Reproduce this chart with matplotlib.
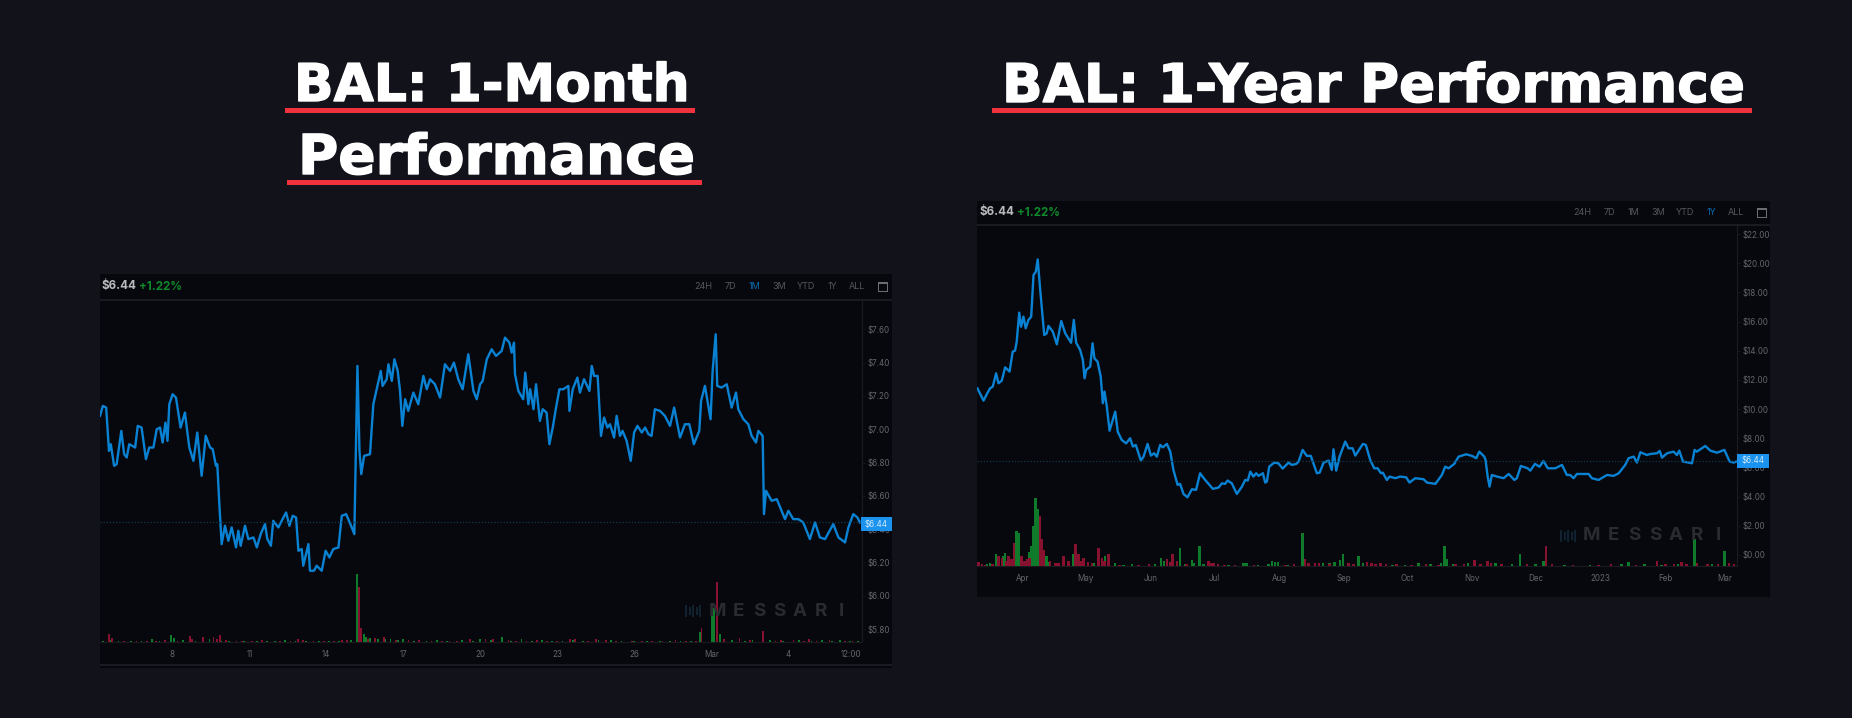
import matplotlib
import matplotlib.pyplot as plt
import matplotlib.patheffects as pe
from matplotlib.patches import Rectangle

matplotlib.use('Agg')

W, H = 1852, 718
BG = '#11121a'
PANEL = '#07080d'
LINE_BLUE = '#0a82d4'
UP = '#0f7a2a'
DOWN = '#861230'

# 1-month chart, x = day of Feb 2023 (29 = 1 Mar)
month_days = [5.18, 5.29, 5.42, 5.53, 5.60, 5.73, 5.83, 6.01, 6.12, 6.22, 6.32, 6.55, 6.65, 6.80, 6.97, 7.10,
              7.26, 7.39, 7.52, 7.62, 7.73, 7.81, 7.88, 8.01, 8.14, 8.32, 8.49, 8.56, 8.66, 8.82, 8.97, 9.14,
              9.30, 9.47, 9.57, 9.70, 9.75, 9.83, 9.92, 10.05, 10.18, 10.31, 10.48, 10.57, 10.66, 10.83, 10.96, 11.16,
              11.29, 11.44, 11.61, 11.70, 11.84, 11.93, 12.13, 12.26, 12.43, 12.56, 12.69, 12.82, 12.91, 13.04, 13.10, 13.30,
              13.36, 13.52, 13.62, 13.82, 13.97, 14.12, 14.27, 14.47, 14.60, 14.77, 14.99, 15.09, 15.14, 15.21, 15.29, 15.36,
              15.47, 15.70, 15.83, 15.96, 16.12, 16.19, 16.35, 16.42, 16.55, 16.65, 16.78, 16.87, 16.96, 17.07, 17.19, 17.39,
              17.58, 17.78, 17.91, 18.04, 18.23, 18.43, 18.62, 18.82, 18.97, 19.14, 19.31, 19.53, 19.73, 19.86, 19.99, 20.09,
              20.25, 20.44, 20.61, 20.83, 20.96, 21.13, 21.22, 21.31, 21.35, 21.48, 21.67, 21.75, 21.87, 21.94, 22.07, 22.17,
              22.32, 22.43, 22.58, 22.69, 22.82, 22.95, 23.08, 23.23, 23.43, 23.47, 23.60, 23.78, 23.88, 24.04, 24.25, 24.34,
              24.43, 24.57, 24.70, 24.82, 24.95, 25.05, 25.21, 25.31, 25.44, 25.54, 25.70, 25.86, 25.99, 26.12, 26.29, 26.42,
              26.55, 26.67, 26.80, 27.00, 27.19, 27.39, 27.55, 27.78, 27.97, 28.14, 28.32, 28.53, 28.60, 28.75, 28.97, 29.05,
              29.17, 29.23, 29.40, 29.60, 29.79, 29.96, 30.05, 30.25, 30.44, 30.57, 30.74, 30.83, 31.00, 31.05, 31.13, 31.35,
              31.55, 31.87, 32.00, 32.19, 32.39, 32.58, 32.84, 33.04, 33.23, 33.43, 33.75, 33.95, 34.21, 34.34, 34.53, 34.69,
              34.79]
month_price = [7.08, 7.14, 7.13, 6.87, 6.91, 6.78, 6.79, 6.99, 6.85, 6.83, 6.91, 6.89, 7.02, 7.01, 6.82, 6.89,
               6.89, 7.00, 7.01, 6.92, 7.04, 6.93, 7.15, 7.21, 7.19, 7.01, 7.10, 7.01, 6.89, 6.81, 6.98, 6.72,
               6.96, 6.89, 6.88, 6.78, 6.79, 6.55, 6.31, 6.42, 6.33, 6.41, 6.29, 6.39, 6.30, 6.42, 6.34, 6.35,
               6.29, 6.37, 6.43, 6.34, 6.30, 6.45, 6.41, 6.45, 6.50, 6.42, 6.48, 6.47, 6.27, 6.28, 6.18, 6.31,
               6.15, 6.15, 6.18, 6.15, 6.27, 6.23, 6.28, 6.29, 6.48, 6.49, 6.41, 6.37, 6.79, 7.38, 6.87, 6.73,
               6.84, 6.85, 7.15, 7.24, 7.35, 7.26, 7.30, 7.39, 7.29, 7.42, 7.35, 7.23, 7.02, 7.18, 7.11, 7.22,
               7.15, 7.32, 7.24, 7.30, 7.27, 7.19, 7.39, 7.35, 7.40, 7.30, 7.24, 7.45, 7.23, 7.18, 7.27, 7.29,
               7.42, 7.48, 7.44, 7.47, 7.55, 7.52, 7.46, 7.52, 7.33, 7.23, 7.18, 7.34, 7.15, 7.24, 7.12, 7.27,
               7.05, 7.12, 7.10, 6.91, 7.01, 7.13, 7.24, 7.24, 7.26, 7.11, 7.24, 7.31, 7.22, 7.30, 7.23, 7.38,
               7.32, 7.32, 6.96, 7.07, 7.01, 7.03, 6.95, 7.08, 6.96, 6.99, 6.93, 6.81, 6.98, 7.02, 6.98, 7.01,
               6.97, 6.96, 7.12, 7.11, 7.08, 7.02, 7.13, 6.95, 7.03, 7.03, 6.91, 6.99, 7.17, 7.26, 7.06, 7.35,
               7.57, 7.26, 7.25, 7.27, 7.13, 7.22, 7.12, 7.06, 7.03, 6.96, 6.92, 6.99, 6.96, 6.49, 6.63, 6.57,
               6.58, 6.46, 6.51, 6.46, 6.46, 6.44, 6.34, 6.44, 6.35, 6.34, 6.43, 6.35, 6.32, 6.41, 6.49, 6.47,
               6.44]
month_up_days = [5.3, 5.6, 5.9, 6.4, 6.8, 7.2, 7.5, 7.95, 8.05, 8.4, 8.9, 9.45, 9.9, 10.2, 10.8, 11.3,
                 11.7, 12.0, 12.4, 12.8, 13.2, 13.7, 14.1, 14.5, 14.95, 15.18, 15.47, 15.55, 15.7, 16.0, 16.3, 16.5,
                 16.8, 17.0, 17.4, 17.9, 18.3, 18.7, 19.3, 19.7, 20.0, 20.4, 20.85, 21.2, 21.6, 22.0, 22.4, 22.8,
                 23.2, 23.6, 24.0, 24.6, 25.1, 25.5, 26.0, 26.5, 27.0, 27.4, 27.8, 28.2, 28.55, 29.04, 29.09, 29.35,
                 29.8, 30.3, 30.6, 31.3, 31.8, 32.4, 32.9, 33.3, 33.7, 34.0, 34.4, 34.7]
month_up_vol = [2, 3, 1, 2, 1, 4, 2, 10, 6, 3, 2, 5, 2, 2, 1, 2,
                2, 2, 3, 1, 2, 2, 1, 2, 3, 100, 12, 8, 6, 5, 4, 4,
                3, 4, 2, 2, 3, 2, 3, 2, 4, 3, 8, 2, 4, 2, 3, 2,
                2, 3, 2, 3, 3, 2, 2, 2, 1, 2, 2, 2, 14, 45, 50, 12,
                3, 2, 3, 3, 2, 3, 2, 3, 2, 3, 2, 2]
month_down_days = [5.53, 5.65, 6.1, 6.6, 7.0, 7.35, 7.7, 8.2, 8.7, 8.75, 9.2, 9.6, 9.75, 9.85, 10.1, 10.5,
                   10.7, 11.1, 11.5, 12.2, 12.6, 12.9, 13.1, 13.5, 13.9, 14.3, 14.6, 14.8, 15.27, 15.34, 15.62, 15.9,
                   16.25, 16.7, 17.2, 17.6, 18.1, 18.5, 18.8, 19.1, 19.6, 20.2, 20.5, 21.1, 21.4, 21.8, 22.2, 22.6,
                   23.0, 23.5, 23.7, 24.2, 24.5, 24.9, 25.3, 25.9, 26.3, 26.7, 27.1, 27.6, 28.0, 28.4, 28.62, 29.21,
                   29.5, 30.1, 30.5, 31.02, 31.5, 31.7, 32.2, 32.6, 32.8, 33.1, 33.6, 34.2, 34.5]
month_down_vol = [12, 6, 2, 2, 2, 1, 3, 2, 9, 5, 7, 7, 5, 10, 3, 2,
                  2, 1, 3, 2, 2, 4, 3, 2, 1, 2, 3, 3, 80, 20, 5, 6,
                  7, 3, 3, 3, 2, 2, 2, 2, 5, 4, 5, 3, 2, 2, 3, 2,
                  2, 5, 4, 2, 4, 3, 2, 2, 1, 2, 2, 3, 2, 2, 20, 88,
                  5, 6, 3, 16, 2, 3, 3, 2, 4, 2, 3, 2, 2]
month_xticks = [8, 11, 14, 17, 20, 23, 26, 29, 32, 34.44]
month_xlabels = ['8', '11', '14', '17', '20', '23', '26', 'Mar', '4', '12:00']
month_yticks = [5.8, 6.0, 6.2, 6.4, 6.6, 6.8, 7.0, 7.2, 7.4, 7.6]

# 1-year chart, x = days since 1 Apr 2022
year_days = [-21.6, -18.7, -17.1, -15.6, -14.3, -12.7, -11.6, -10.0, -8.4, -6.3, -4.8, -3.7, -2.9, -1.7, -0.8, 0.3,
             1.4, 2.7, 4.0, 5.1, 6.2, 7.1, 8.3, 10.2, 11.4, 12.2, 14.3, 16.2, 18.3, 20.2, 23.0, 24.3,
             25.4, 27.3, 28.6, 29.4, 30.2, 32.1, 33.2, 34.1, 35.6, 37.1, 38.1, 38.9, 40.0, 41.3, 44.0, 45.2,
             47.1, 49.2, 51.1, 52.4, 53.8, 56.2, 57.5, 59.4, 61.0, 62.5, 63.8, 65.4, 66.7, 68.6, 70.2, 71.7,
             73.7, 74.9, 76.5, 78.4, 80.5, 82.5, 84.4, 86.8, 90.5, 93.2, 94.8, 96.3, 97.5, 99.5, 101.9, 104.3,
             105.9, 107.1, 108.3, 109.8, 111.1, 112.2, 114.3, 115.4, 116.2, 117.3, 119.7, 121.7, 123.7, 126.5, 128.1, 130.2,
             131.3, 133.2, 135.2, 137.1, 140.0, 141.3, 143.2, 145.6, 147.1, 147.9, 149.2, 150.8, 153.5, 155.1, 157.0, 158.3,
             161.9, 163.3, 165.4, 167.3, 168.9, 170.5, 171.4, 173.3, 174.6, 177.3, 179.7, 182.5, 184.1, 186.8, 190.8, 192.4,
             196.4, 199.5, 201.1, 202.7, 205.4, 207.5, 211.1, 213.8, 215.9, 217.3, 219.7, 220.3, 221.3, 222.2, 223.3, 225.7,
             228.9, 231.3, 234.0, 235.2, 237.1, 240.3, 241.6, 243.8, 246.0, 247.9, 249.9, 253.5, 256.7, 259.0, 260.6, 262.2,
             263.8, 269.4, 270.9, 274.1, 278.1, 281.3, 283.7, 286.8, 288.4, 290.8, 292.4, 294.0, 297.1, 298.7, 301.9, 303.2,
             304.3, 306.7, 309.8, 311.4, 312.5, 314.3, 317.0, 318.6, 319.8, 320.9, 324.9, 327.3, 330.5, 334.0, 336.5, 338.4,
             339.7]
year_price = [11.42, 10.58, 11.03, 11.42, 11.54, 12.45, 11.77, 11.95, 12.86, 12.57, 13.94, 14.00, 14.62, 16.61, 15.65, 16.34,
              15.54, 16.11, 16.34, 19.19, 19.42, 20.26, 18.16, 15.08, 15.19, 15.70, 15.31, 14.44, 16.04, 15.19, 14.55, 16.11,
              14.55, 14.05, 13.37, 12.11, 12.68, 12.91, 14.51, 13.48, 13.25, 12.22, 10.40, 11.20, 10.17, 8.52, 9.82, 8.45,
              7.88, 7.65, 8.00, 7.43, 7.54, 6.47, 6.74, 7.61, 6.81, 6.97, 6.74, 7.54, 7.38, 7.61, 7.08, 5.83,
              4.80, 4.87, 4.18, 3.95, 4.50, 4.46, 5.60, 5.14, 4.53, 4.62, 4.91, 4.87, 5.10, 4.91, 4.18, 4.68,
              5.14, 5.10, 5.71, 5.37, 5.60, 5.42, 5.60, 4.96, 5.03, 6.05, 6.33, 6.28, 5.92, 6.33, 6.17, 6.24,
              6.40, 7.20, 6.79, 6.79, 5.60, 5.64, 6.33, 6.47, 5.83, 7.24, 5.78, 6.74, 7.77, 7.31, 7.31, 6.81,
              7.61, 7.54, 6.51, 5.94, 5.94, 5.60, 5.64, 5.14, 5.37, 5.26, 5.37, 5.32, 4.96, 5.26, 5.19, 4.96,
              4.87, 5.48, 6.05, 5.94, 6.24, 6.74, 6.90, 6.79, 6.63, 7.08, 6.74, 6.51, 5.37, 4.68, 5.48, 5.37,
              5.26, 5.55, 5.14, 5.26, 6.10, 5.94, 5.78, 6.24, 6.05, 6.44, 5.94, 5.94, 6.17, 5.48, 5.48, 5.26,
              5.55, 5.55, 5.26, 5.14, 5.48, 5.42, 5.60, 6.17, 6.63, 6.74, 6.33, 7.04, 6.85, 6.92, 6.97, 7.13,
              6.67, 6.97, 7.08, 6.85, 7.15, 6.40, 6.33, 6.28, 7.20, 7.08, 7.47, 7.15, 7.01, 7.20, 6.40, 6.33,
              6.40]
year_up_days = [-17, -15.6, -12.7, -11.3, -9.2, -8.4, -2.9, -2.1, 3.0, 4.0, 4.8, 6.0, 7.0, 11.4, 12.5, 24.1,
                34.0, 39.2, 44.0, 48.0, 52.0, 63.0, 65.7, 67.2, 74.9, 77.5, 80.5, 81.5, 84.1, 86.0, 98.0, 105.1,
                106.5, 112.0, 117.0, 118.6, 120.0, 121.5, 126.0, 133.2, 143.0, 146.0, 148.5, 151.1, 152.4, 159.8, 162.0, 176.0,
                182.0, 188.4, 194.0, 199.0, 200.8, 201.9, 205.0, 212.0, 225.0, 233.0, 236.8, 244.0, 247.9, 258.0, 270.0, 285.0,
                288.4, 296.0, 304.0, 312.0, 319.8, 328.0, 334.1]
year_up_vol = [3, 4, 17, 8, 15, 19, 51, 49, 20, 30, 59, 100, 83, 15, 6, 17,
               4, 15, 4, 2, 3, 3, 12, 8, 27, 3, 9, 5, 29, 3, 2, 5,
               4, 2, 3, 7, 6, 6, 2, 49, 5, 4, 6, 9, 17, 15, 5, 2,
               2, 4, 3, 5, 29, 10, 3, 5, 4, 3, 17, 3, 7, 2, 2, 3,
               6, 3, 2, 3, 39, 3, 22]
year_down_days = [-21.1, -19.5, -18.0, -14.5, -11.6, -10.0, -7.9, -6.8, -5.4, -4.1, -0.5, 0.8, 1.9, 3.2, 8.3, 9.2,
                  10.2, 13.0, 15.5, 17.0, 19.4, 21.7, 25.2, 26.5, 27.8, 28.9, 31.0, 33.0, 36.0, 37.6, 38.8, 40.8,
                  46.0, 55.0, 60.0, 68.6, 70.0, 71.3, 73.3, 78.0, 88.4, 89.8, 91.0, 93.0, 96.0, 101.0, 110.0, 125.0,
                  129.0, 134.4, 136.0, 139.2, 141.0, 146.0, 155.0, 157.5, 163.8, 166.0, 168.0, 170.2, 173.0, 178.0, 185.0, 192.0,
                  198.0, 206.0, 210.0, 215.1, 218.0, 221.3, 223.0, 228.0, 240.0, 249.0, 252.0, 262.0, 274.0, 280.0, 292.0, 301.9,
                  306.0, 310.0, 313.7, 316.0, 320.9, 326.0, 331.0, 336.1, 338.5]
year_down_vol = [6, 3, 2, 3, 15, 12, 8, 15, 10, 34, 15, 8, 10, 12, 73, 39,
                 24, 7, 5, 4, 15, 7, 32, 17, 8, 12, 6, 5, 27, 12, 8, 17,
                 2, 2, 3, 10, 6, 17, 7, 3, 7, 5, 4, 3, 2, 2, 2, 2,
                 3, 10, 5, 5, 4, 3, 4, 3, 6, 4, 3, 4, 3, 3, 2, 3,
                 2, 3, 3, 9, 3, 7, 5, 3, 3, 29, 3, 2, 2, 3, 2, 7,
                 3, 3, 6, 3, 5, 3, 3, 4, 3]
year_xticks = [0, 30, 61, 91, 122, 153, 183, 214, 244, 275, 306, 334]
year_xlabels = ['Apr', 'May', 'Jun', 'Jul', 'Aug', 'Sep', 'Oct', 'Nov', 'Dec', '2023', 'Feb', 'Mar']
year_yticks = [0, 2, 4, 6, 8, 10, 12, 14, 16, 18, 20, 22]

current_price = 6.44
ranges = ['24H', '7D', '1M', '3M', 'YTD', '1Y', 'ALL']


fig = plt.figure(figsize=(W / 100, H / 100), dpi=100, facecolor=BG)
plt.rcParams['font.family'] = ['Inter', 'DejaVu Sans']


def add_rect(x0, y0, x1, y1, color, zorder=1, **kw):
    fig.add_artist(Rectangle((x0 / W, 1 - y1 / H), (x1 - x0) / W, (y1 - y0) / H,
                             transform=fig.transFigure, facecolor=color,
                             edgecolor='none', zorder=zorder, **kw))


def add_text(x, y, s, **kw):
    kw.setdefault('va', 'center')
    return fig.text(x / W, 1 - y / H, s, **kw)


def draw_chart(panel, plot, days, price, up, down, xlim, ylim, xticks, xlabels, yticks, yfmt,
               bar_width, range_x, active, head_x, tag, mark_x, mark_y, icon_x, bottom_rule):
    x0, y0, x1, y1 = panel
    px0, py0, px1, py1 = plot
    add_rect(x0, y0, x1, y1, PANEL, zorder=-1)
    add_rect(x0, py0 - 1, x1, py0 + 1, '#191b20', zorder=1)
    if bottom_rule:
        add_rect(x0, bottom_rule - 1, x1, bottom_rule + 1, '#191b20', zorder=1)

    ax = fig.add_axes([px0 / W, 1 - py1 / H, (px1 - px0) / W, (py1 - py0) / H])
    ax.patch.set_alpha(0)

    vol = ax.twinx()
    vol.patch.set_alpha(0)
    vol.bar(up[0], up[1], width=bar_width, color=UP)
    vol.bar(down[0], down[1], width=bar_width, color=DOWN)
    vol.set_ylim(0, 500)
    vol.set_yticks([])
    for spine in vol.spines.values():
        spine.set_visible(False)

    ax.plot(days, price, color=LINE_BLUE, lw=1.7, solid_joinstyle='round')
    ax.axhline(current_price, color='#12384a', lw=0.9, ls=(0, (1, 1.5)))
    ax.set_xlim(*xlim)
    ax.set_ylim(*ylim)
    ax.set_xticks(xticks)
    ax.set_xticklabels(xlabels)
    ax.set_yticks(yticks)
    ax.set_yticklabels([yfmt % v for v in yticks])
    ax.yaxis.tick_right()
    ax.tick_params(axis='x', length=0, pad=6, labelsize=5.8, labelcolor='#63666b')
    ax.tick_params(axis='y', length=2, width=0.6, color='#191b20', pad=2, labelsize=5.8, labelcolor='#63666b')
    for side in ['top', 'left']:
        ax.spines[side].set_visible(False)
    ax.spines['right'].set_color('#191b20')
    ax.spines['bottom'].set_color('#191b20')

    # header row
    head_y = (y0 + py0) / 2 - 0.5
    add_text(head_x[0], head_y, '$%.2f' % current_price, color='#b9babc', fontsize=8.3, fontweight='bold')
    add_text(head_x[1], head_y, '+1.22%', color='#0f8a2c', fontsize=8.3, fontweight='bold')
    for label, rx in zip(ranges, range_x):
        add_text(rx, head_y, label, ha='center', fontsize=6.5,
                 color='#0a6db5' if label == active else '#55575c')
    cal = range_x[-1] + 26
    add_rect(cal - 5, head_y - 5, cal + 5, head_y + 5, '#6b6d71', zorder=2)
    add_rect(cal - 4, head_y - 2.5, cal + 4, head_y + 4, PANEL, zorder=3)

    # price tag on the axis
    add_rect(tag[0], tag[1], tag[2], tag[3], '#1b93ee', zorder=5)
    add_text((tag[0] + tag[2]) / 2, (tag[1] + tag[3]) / 2, '$%.2f' % current_price, ha='center',
             color='#cfe8fb', fontsize=5.8, zorder=6)

    # watermark
    for i, letter in enumerate('MESSARI'):
        add_text(mark_x[0] + i * mark_x[1], mark_y, letter, ha='center', color='#292b30',
                 fontsize=13.5, fontweight='bold', zorder=4)
    for i, h in enumerate([12, 8, 12, 8, 12]):
        add_rect(icon_x + i * 3.5, mark_y - h / 2, icon_x + i * 3.5 + 2, mark_y + h / 2, '#10212f', zorder=4)


draw_chart(panel=(100, 274, 892, 668), plot=(100, 300, 862, 642),
           days=month_days, price=month_price,
           up=(month_up_days, month_up_vol), down=(month_down_days, month_down_vol),
           xlim=(5.18, 34.87), ylim=(5.722, 7.776),
           xticks=month_xticks, xlabels=month_xlabels, yticks=month_yticks, yfmt='$%.2f',
           bar_width=0.07, range_x=[703, 730, 754, 779, 806, 832, 857], active='1M',
           head_x=(102, 139), tag=(861, 517, 892, 531),
           mark_x=(718, 20.5), mark_y=611, icon_x=685, bottom_rule=665)

draw_chart(panel=(977, 201, 1770, 597), plot=(977, 225, 1737, 566),
           days=year_days, price=year_price,
           up=(year_up_days, year_up_vol), down=(year_down_days, year_down_vol),
           xlim=(-21.8, 340.0), ylim=(-0.76, 22.62),
           xticks=year_xticks, xlabels=year_xlabels, yticks=year_yticks, yfmt='$%.2f',
           bar_width=1.2, range_x=[1582, 1609, 1633, 1658, 1685, 1711, 1736], active='1Y',
           head_x=(980, 1017), tag=(1737, 454, 1769, 468),
           mark_x=(1592, 21), mark_y=536, icon_x=1560, bottom_rule=None)

# titles with red underlines, sizes set so each line spans the reference width
heavy = [pe.withStroke(linewidth=1.0, foreground='white')]
title_kw = dict(color='white', fontweight='bold', family='DejaVu Sans', va='baseline', path_effects=heavy)
add_text(294, 101, 'BAL: 1-Month', fontsize=37.4, **title_kw)
add_text(298, 174, 'Performance', fontsize=39.6, **title_kw)
add_text(1002, 102, 'BAL: 1-Year Performance', fontsize=38.4, **title_kw)
add_rect(285, 107.5, 695, 112.5, '#f0323f')
add_rect(287, 179.5, 702, 184.5, '#f0323f')
add_rect(992, 107.5, 1752, 112.5, '#f0323f')

fig.savefig('out.png', dpi=100, facecolor=BG)
